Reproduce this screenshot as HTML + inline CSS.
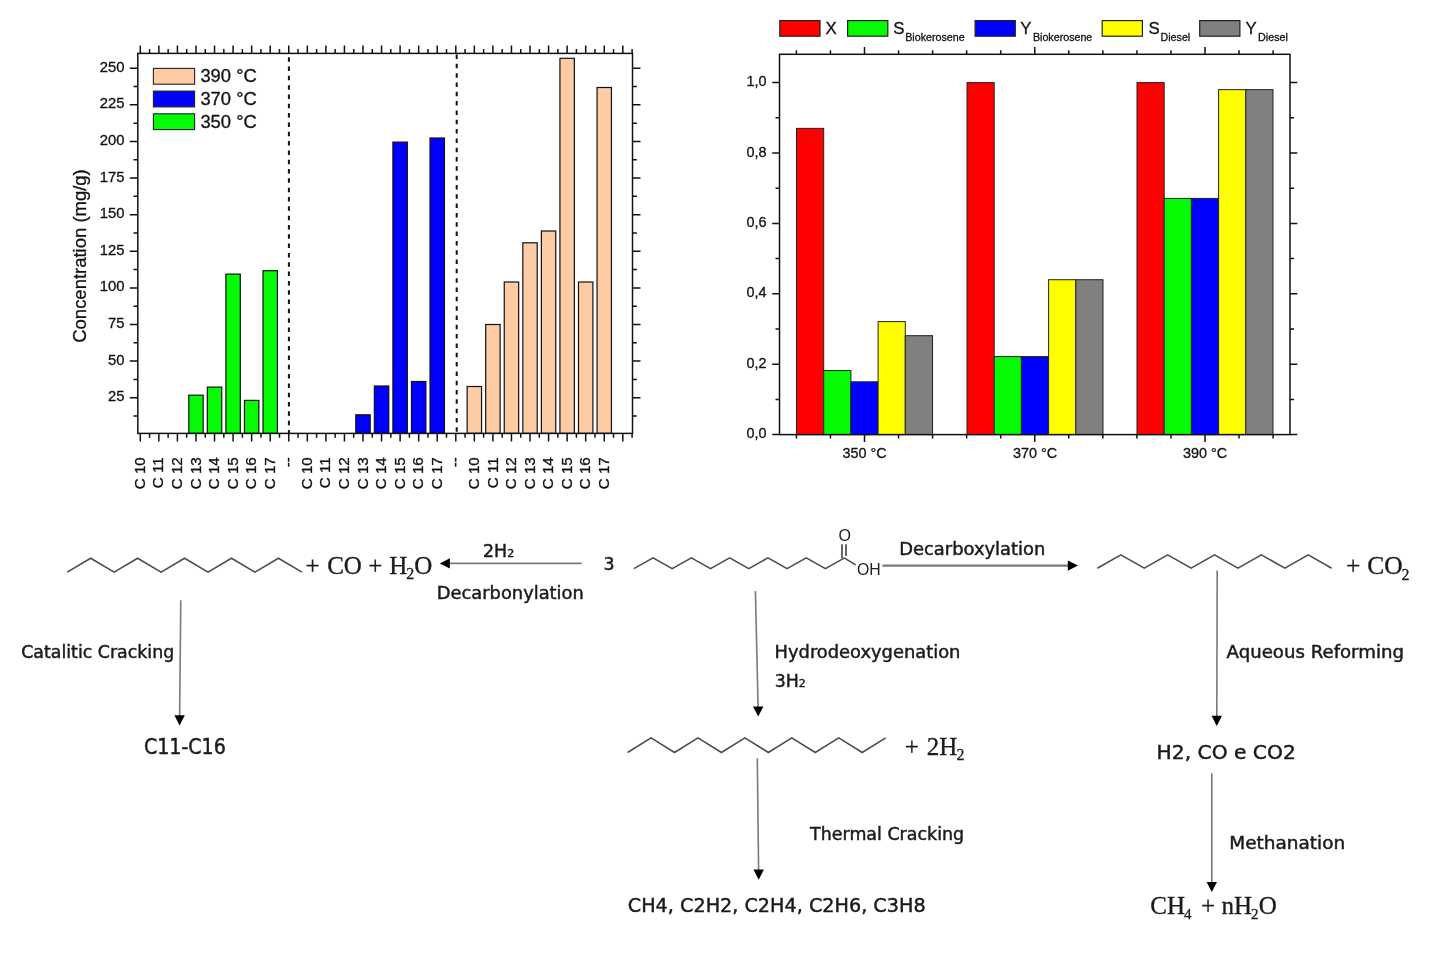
<!DOCTYPE html>
<html><head><meta charset="utf-8"><title>Hydrocarbon distribution and reaction pathways</title>
<style>
html,body{margin:0;padding:0;background:#fff;}
body{width:1449px;height:959px;overflow:hidden;}
svg{display:block;}
text{white-space:pre;}
</style></head>
<body>
<svg width="1449" height="959" viewBox="0 0 1449 959">
<rect width="1449" height="959" fill="#fff"/>
<g id="left-chart">
<rect x="188.77" y="395.2" width="14.4" height="38.2" fill="#04fb04" stroke="#111" stroke-width="1.2"/>
<rect x="207.33" y="387.1" width="14.4" height="46.3" fill="#04fb04" stroke="#111" stroke-width="1.2"/>
<rect x="225.89" y="274.1" width="14.4" height="159.3" fill="#04fb04" stroke="#111" stroke-width="1.2"/>
<rect x="244.45" y="400.4" width="14.4" height="33" fill="#04fb04" stroke="#111" stroke-width="1.2"/>
<rect x="263.01" y="270.7" width="14.4" height="162.7" fill="#04fb04" stroke="#111" stroke-width="1.2"/>
<rect x="355.8" y="414.8" width="14.4" height="18.6" fill="#0000ff" stroke="#111" stroke-width="1.2"/>
<rect x="374.35" y="386" width="14.4" height="47.4" fill="#0000ff" stroke="#111" stroke-width="1.2"/>
<rect x="392.91" y="142.1" width="14.4" height="291.3" fill="#0000ff" stroke="#111" stroke-width="1.2"/>
<rect x="411.47" y="381.5" width="14.4" height="51.9" fill="#0000ff" stroke="#111" stroke-width="1.2"/>
<rect x="430.03" y="138" width="14.4" height="295.4" fill="#0000ff" stroke="#111" stroke-width="1.2"/>
<rect x="467.14" y="386.5" width="14.4" height="46.9" fill="#fdcba4" stroke="#111" stroke-width="1.2"/>
<rect x="485.7" y="324.5" width="14.4" height="108.9" fill="#fdcba4" stroke="#111" stroke-width="1.2"/>
<rect x="504.26" y="282" width="14.4" height="151.4" fill="#fdcba4" stroke="#111" stroke-width="1.2"/>
<rect x="522.82" y="242.8" width="14.4" height="190.6" fill="#fdcba4" stroke="#111" stroke-width="1.2"/>
<rect x="541.38" y="231" width="14.4" height="202.4" fill="#fdcba4" stroke="#111" stroke-width="1.2"/>
<rect x="559.93" y="58.3" width="14.4" height="375.1" fill="#fdcba4" stroke="#111" stroke-width="1.2"/>
<rect x="578.49" y="282" width="14.4" height="151.4" fill="#fdcba4" stroke="#111" stroke-width="1.2"/>
<rect x="597.05" y="87.5" width="14.4" height="345.9" fill="#fdcba4" stroke="#111" stroke-width="1.2"/>
<line x1="288.9" y1="57.2" x2="288.9" y2="433.4" stroke="#111" stroke-width="2" stroke-dasharray="4.5 4.82"/>
<line x1="456.7" y1="54.5" x2="456.7" y2="433.4" stroke="#111" stroke-width="2" stroke-dasharray="4.5 4.82"/>
<rect x="137.8" y="53.4" width="494.7" height="380" fill="none" stroke="#111" stroke-width="1.5"/>
<path d="M140.3 53.4v-8M140.3 433.4v8M149.58 53.4v-4.3M149.58 433.4v4.3M158.86 53.4v-8M158.86 433.4v8M168.14 53.4v-4.3M168.14 433.4v4.3M177.42 53.4v-8M177.42 433.4v8M186.69 53.4v-4.3M186.69 433.4v4.3M195.97 53.4v-8M195.97 433.4v8M205.25 53.4v-4.3M205.25 433.4v4.3M214.53 53.4v-8M214.53 433.4v8M223.81 53.4v-4.3M223.81 433.4v4.3M233.09 53.4v-8M233.09 433.4v8M242.37 53.4v-4.3M242.37 433.4v4.3M251.65 53.4v-8M251.65 433.4v8M260.93 53.4v-4.3M260.93 433.4v4.3M270.21 53.4v-8M270.21 433.4v8M279.49 53.4v-4.3M279.49 433.4v4.3M288.76 53.4v-8M288.76 433.4v8M298.04 53.4v-4.3M298.04 433.4v4.3M307.32 53.4v-8M307.32 433.4v8M316.6 53.4v-4.3M316.6 433.4v4.3M325.88 53.4v-8M325.88 433.4v8M335.16 53.4v-4.3M335.16 433.4v4.3M344.44 53.4v-8M344.44 433.4v8M353.72 53.4v-4.3M353.72 433.4v4.3M363 53.4v-8M363 433.4v8M372.27 53.4v-4.3M372.27 433.4v4.3M381.55 53.4v-8M381.55 433.4v8M390.83 53.4v-4.3M390.83 433.4v4.3M400.11 53.4v-8M400.11 433.4v8M409.39 53.4v-4.3M409.39 433.4v4.3M418.67 53.4v-8M418.67 433.4v8M427.95 53.4v-4.3M427.95 433.4v4.3M437.23 53.4v-8M437.23 433.4v8M446.51 53.4v-4.3M446.51 433.4v4.3M455.79 53.4v-8M455.79 433.4v8M465.06 53.4v-4.3M465.06 433.4v4.3M474.34 53.4v-8M474.34 433.4v8M483.62 53.4v-4.3M483.62 433.4v4.3M492.9 53.4v-8M492.9 433.4v8M502.18 53.4v-4.3M502.18 433.4v4.3M511.46 53.4v-8M511.46 433.4v8M520.74 53.4v-4.3M520.74 433.4v4.3M530.02 53.4v-8M530.02 433.4v8M539.3 53.4v-4.3M539.3 433.4v4.3M548.58 53.4v-8M548.58 433.4v8M557.86 53.4v-4.3M557.86 433.4v4.3M567.13 53.4v-8M567.13 433.4v8M576.41 53.4v-4.3M576.41 433.4v4.3M585.69 53.4v-8M585.69 433.4v8M594.97 53.4v-4.3M594.97 433.4v4.3M604.25 53.4v-8M604.25 433.4v8M613.53 53.4v-4.3M613.53 433.4v4.3M622.81 53.4v-8M622.81 433.4v8M632.09 53.4v-4.3M632.09 433.4v4.3M137.8 397.69h-8M632.5 397.69h8M137.8 361.09h-8M632.5 361.09h8M137.8 324.49h-8M632.5 324.49h8M137.8 287.88h-8M632.5 287.88h8M137.8 251.28h-8M632.5 251.28h8M137.8 214.67h-8M632.5 214.67h8M137.8 178.06h-8M632.5 178.06h8M137.8 141.46h-8M632.5 141.46h8M137.8 104.86h-8M632.5 104.86h8M137.8 68.25h-8M632.5 68.25h8M137.8 416h-4.3M632.5 416h4.3M137.8 379.39h-4.3M632.5 379.39h4.3M137.8 342.79h-4.3M632.5 342.79h4.3M137.8 306.18h-4.3M632.5 306.18h4.3M137.8 269.58h-4.3M632.5 269.58h4.3M137.8 232.97h-4.3M632.5 232.97h4.3M137.8 196.37h-4.3M632.5 196.37h4.3M137.8 159.76h-4.3M632.5 159.76h4.3M137.8 123.16h-4.3M632.5 123.16h4.3M137.8 86.55h-4.3M632.5 86.55h4.3" stroke="#111" stroke-width="1.5" fill="none"/>
<g font-family="'Liberation Sans', Arial, sans-serif" font-size="14.8" fill="#111" stroke="#111" stroke-width="0.3" text-anchor="end">
<text x="124.4" y="401.3">25</text>
<text x="124.4" y="364.69">50</text>
<text x="124.4" y="328.09">75</text>
<text x="124.4" y="291.48">100</text>
<text x="124.4" y="254.88">125</text>
<text x="124.4" y="218.27">150</text>
<text x="124.4" y="181.66">175</text>
<text x="124.4" y="145.06">200</text>
<text x="124.4" y="108.46">225</text>
<text x="124.4" y="71.85">250</text>
</g>
<g font-family="'Liberation Sans', Arial, sans-serif" font-size="15.2" fill="#111" stroke="#111" stroke-width="0.3" text-anchor="end">
<text transform="translate(144.9,457.2) rotate(-90)">C 10</text>
<text transform="translate(163.46,457.2) rotate(-90)">C 11</text>
<text transform="translate(182.02,457.2) rotate(-90)">C 12</text>
<text transform="translate(200.57,457.2) rotate(-90)">C 13</text>
<text transform="translate(219.13,457.2) rotate(-90)">C 14</text>
<text transform="translate(237.69,457.2) rotate(-90)">C 15</text>
<text transform="translate(256.25,457.2) rotate(-90)">C 16</text>
<text transform="translate(274.81,457.2) rotate(-90)">C 17</text>
<text transform="translate(293.36,457.2) rotate(-90)">--</text>
<text transform="translate(311.92,457.2) rotate(-90)">C 10</text>
<text transform="translate(330.48,457.2) rotate(-90)">C 11</text>
<text transform="translate(349.04,457.2) rotate(-90)">C 12</text>
<text transform="translate(367.6,457.2) rotate(-90)">C 13</text>
<text transform="translate(386.15,457.2) rotate(-90)">C 14</text>
<text transform="translate(404.71,457.2) rotate(-90)">C 15</text>
<text transform="translate(423.27,457.2) rotate(-90)">C 16</text>
<text transform="translate(441.83,457.2) rotate(-90)">C 17</text>
<text transform="translate(460.39,457.2) rotate(-90)">--</text>
<text transform="translate(478.94,457.2) rotate(-90)">C 10</text>
<text transform="translate(497.5,457.2) rotate(-90)">C 11</text>
<text transform="translate(516.06,457.2) rotate(-90)">C 12</text>
<text transform="translate(534.62,457.2) rotate(-90)">C 13</text>
<text transform="translate(553.18,457.2) rotate(-90)">C 14</text>
<text transform="translate(571.73,457.2) rotate(-90)">C 15</text>
<text transform="translate(590.29,457.2) rotate(-90)">C 16</text>
<text transform="translate(608.85,457.2) rotate(-90)">C 17</text>
</g>
<text transform="translate(85.9,256) rotate(-90)" font-family="'Liberation Sans', Arial, sans-serif" font-size="19" fill="#111" stroke="#111" stroke-width="0.3" text-anchor="middle" textLength="173.5" lengthAdjust="spacingAndGlyphs">Concentration (mg/g)</text>
<rect x="153.4" y="68.4" width="41.2" height="15.8" fill="#fdcba4" stroke="#222" stroke-width="1.1"/>
<text x="200.4" y="82.4" font-family="'Liberation Sans', Arial, sans-serif" font-size="18.4" fill="#111" stroke="#111" stroke-width="0.3">390 °C</text>
<rect x="153.4" y="91.1" width="41.2" height="15.8" fill="#0000ff" stroke="#222" stroke-width="1.1"/>
<text x="200.4" y="105.1" font-family="'Liberation Sans', Arial, sans-serif" font-size="18.4" fill="#111" stroke="#111" stroke-width="0.3">370 °C</text>
<rect x="153.4" y="113.8" width="41.2" height="15.8" fill="#04fb04" stroke="#222" stroke-width="1.1"/>
<text x="200.4" y="127.8" font-family="'Liberation Sans', Arial, sans-serif" font-size="18.4" fill="#111" stroke="#111" stroke-width="0.3">350 °C</text>
</g>
<g id="right-chart">
<rect x="796.5" y="128.36" width="27.2" height="306.24" fill="#ff0000" stroke="#222" stroke-width="1"/>
<rect x="823.7" y="370.54" width="27.2" height="64.06" fill="#04fb04" stroke="#222" stroke-width="1"/>
<rect x="850.9" y="381.8" width="27.2" height="52.8" fill="#0000ff" stroke="#222" stroke-width="1"/>
<rect x="878.1" y="321.61" width="27.2" height="112.99" fill="#ffff00" stroke="#222" stroke-width="1"/>
<rect x="905.3" y="335.69" width="27.2" height="98.91" fill="#808080" stroke="#222" stroke-width="1"/>
<rect x="967" y="82.6" width="27.2" height="352" fill="#ff0000" stroke="#222" stroke-width="1"/>
<rect x="994.2" y="356.6" width="27.2" height="78" fill="#04fb04" stroke="#222" stroke-width="1"/>
<rect x="1021.4" y="356.6" width="27.2" height="78" fill="#0000ff" stroke="#222" stroke-width="1"/>
<rect x="1048.6" y="279.72" width="27.2" height="154.88" fill="#ffff00" stroke="#222" stroke-width="1"/>
<rect x="1075.8" y="279.72" width="27.2" height="154.88" fill="#808080" stroke="#222" stroke-width="1"/>
<rect x="1137" y="82.6" width="27.2" height="352" fill="#ff0000" stroke="#222" stroke-width="1"/>
<rect x="1164.2" y="198.41" width="27.2" height="236.19" fill="#04fb04" stroke="#222" stroke-width="1"/>
<rect x="1191.4" y="198.41" width="27.2" height="236.19" fill="#0000ff" stroke="#222" stroke-width="1"/>
<rect x="1218.6" y="89.64" width="27.2" height="344.96" fill="#ffff00" stroke="#222" stroke-width="1"/>
<rect x="1245.8" y="89.64" width="27.2" height="344.96" fill="#808080" stroke="#222" stroke-width="1"/>
<rect x="779.5" y="54.3" width="510.5" height="380.3" fill="none" stroke="#111" stroke-width="1.5"/>
<path d="M796.4 54.3v-4M796.4 434.6v4M830.45 54.3v-4M830.45 434.6v4M864.5 54.3v-7.3M864.5 434.6v7.3M898.55 54.3v-4M898.55 434.6v4M932.6 54.3v-4M932.6 434.6v4M966.65 54.3v-4M966.65 434.6v4M1000.7 54.3v-4M1000.7 434.6v4M1034.75 54.3v-7.3M1034.75 434.6v7.3M1068.8 54.3v-4M1068.8 434.6v4M1102.85 54.3v-4M1102.85 434.6v4M1136.9 54.3v-4M1136.9 434.6v4M1170.95 54.3v-4M1170.95 434.6v4M1205 54.3v-7.3M1205 434.6v7.3M1239.05 54.3v-4M1239.05 434.6v4M1273.1 54.3v-4M1273.1 434.6v4M779.5 434.6h-7.3M1290.0 434.6h7.3M779.5 399.4h-4M1290.0 399.4h4M779.5 364.2h-7.3M1290.0 364.2h7.3M779.5 329h-4M1290.0 329h4M779.5 293.8h-7.3M1290.0 293.8h7.3M779.5 258.6h-4M1290.0 258.6h4M779.5 223.4h-7.3M1290.0 223.4h7.3M779.5 188.2h-4M1290.0 188.2h4M779.5 153h-7.3M1290.0 153h7.3M779.5 117.8h-4M1290.0 117.8h4M779.5 82.6h-7.3M1290.0 82.6h7.3" stroke="#111" stroke-width="1.5" fill="none"/>
<g font-family="'Liberation Sans', Arial, sans-serif" font-size="14.4" fill="#111" stroke="#111" stroke-width="0.3" text-anchor="end">
<text x="766.6" y="438.1">0,0</text>
<text x="766.6" y="367.7">0,2</text>
<text x="766.6" y="297.3">0,4</text>
<text x="766.6" y="226.9">0,6</text>
<text x="766.6" y="156.5">0,8</text>
<text x="766.6" y="86.1">1,0</text>
</g>
<g font-family="'Liberation Sans', Arial, sans-serif" font-size="14.4" fill="#111" stroke="#111" stroke-width="0.3" text-anchor="middle">
<text x="864.5" y="457.6">350 °C</text>
<text x="1035" y="457.6">370 °C</text>
<text x="1205" y="457.6">390 °C</text>
</g>
<rect x="779.8" y="20.6" width="40.2" height="15.6" fill="#ff0000" stroke="#222" stroke-width="1.2"/>
<text x="825.6" y="34.2" font-family="'Liberation Sans', Arial, sans-serif" font-size="16.8" fill="#111" stroke="#111" stroke-width="0.3">X</text>
<rect x="847.6" y="20.6" width="40.2" height="15.6" fill="#04fb04" stroke="#222" stroke-width="1.2"/>
<text x="893.2" y="34.2" font-family="'Liberation Sans', Arial, sans-serif" font-size="16.8" fill="#111" stroke="#111" stroke-width="0.3">S</text>
<text x="905.2" y="41" font-family="'Liberation Sans', Arial, sans-serif" font-size="10.7" fill="#111" stroke="#111" stroke-width="0.3">Biokerosene</text>
<rect x="975.1" y="20.6" width="40.2" height="15.6" fill="#0000ff" stroke="#222" stroke-width="1.2"/>
<text x="1020.3" y="34.2" font-family="'Liberation Sans', Arial, sans-serif" font-size="16.8" fill="#111" stroke="#111" stroke-width="0.3">Y</text>
<text x="1032.9" y="41" font-family="'Liberation Sans', Arial, sans-serif" font-size="10.7" fill="#111" stroke="#111" stroke-width="0.3">Biokerosene</text>
<rect x="1102.2" y="20.6" width="40.2" height="15.6" fill="#ffff00" stroke="#222" stroke-width="1.2"/>
<text x="1148.5" y="34.2" font-family="'Liberation Sans', Arial, sans-serif" font-size="16.8" fill="#111" stroke="#111" stroke-width="0.3">S</text>
<text x="1160.5" y="41" font-family="'Liberation Sans', Arial, sans-serif" font-size="10.7" fill="#111" stroke="#111" stroke-width="0.3">Diesel</text>
<rect x="1199.7" y="20.6" width="40.2" height="15.6" fill="#808080" stroke="#222" stroke-width="1.2"/>
<text x="1245.5" y="34.2" font-family="'Liberation Sans', Arial, sans-serif" font-size="16.8" fill="#111" stroke="#111" stroke-width="0.3">Y</text>
<text x="1258.1" y="41" font-family="'Liberation Sans', Arial, sans-serif" font-size="10.7" fill="#111" stroke="#111" stroke-width="0.3">Diesel</text>
</g>
<g id="scheme">
<polyline points="67.2,572.1 90.67,558.3 114.14,572.1 137.61,558.3 161.08,572.1 184.55,558.3 208.02,572.1 231.49,558.3 254.96,572.1 278.43,558.3 301.9,572.1" fill="none" stroke="#4d4d4d" stroke-width="1.6" stroke-linejoin="miter"/>
<polyline points="633.9,568.6 653.05,557.9 672.2,568.6 691.35,557.9 710.5,568.6 729.65,557.9 748.8,568.6 767.95,557.9 787.1,568.6 806.25,557.9 825.4,568.6 844.55,557.9" fill="none" stroke="#4d4d4d" stroke-width="1.6" stroke-linejoin="miter"/>
<path d="M844.2 557.9L855.6 564.9M842 558.3V544.2M846 556V544.2" stroke="#4d4d4d" stroke-width="1.7" fill="none"/>
<text x="838.4" y="541.4" font-family="'Liberation Sans', Arial, sans-serif" font-size="16" fill="#222">O</text>
<text x="857" y="574.9" font-family="'Liberation Sans', Arial, sans-serif" font-size="15.8" fill="#222">OH</text>
<polyline points="1097.4,568.2 1120.83,554.9 1144.26,568.2 1167.69,554.9 1191.12,568.2 1214.55,554.9 1237.98,568.2 1261.41,554.9 1284.84,568.2 1308.27,554.9 1331.7,568.2" fill="none" stroke="#4d4d4d" stroke-width="1.6" stroke-linejoin="miter"/>
<polyline points="627.6,752.5 651.06,737.9 674.52,752.5 697.98,737.9 721.44,752.5 744.9,737.9 768.36,752.5 791.82,737.9 815.28,752.5 838.74,737.9 862.2,752.5 885.66,737.9" fill="none" stroke="#4d4d4d" stroke-width="1.6" stroke-linejoin="miter"/>
<line x1="447" y1="563.4" x2="581.7" y2="563.4" stroke="#7a7a7a" stroke-width="1.6"/>
<polygon points="439.7,563.4 449.9,558.2 449.9,568.6" fill="#000"/>
<line x1="882.4" y1="565.6" x2="1070" y2="565.6" stroke="#7a7a7a" stroke-width="2.2"/>
<polygon points="1078,565.6 1067.8,560.4 1067.8,570.8" fill="#000"/>
<line x1="180.8" y1="600.3" x2="179.6" y2="716" stroke="#7a7a7a" stroke-width="1.6"/>
<polygon points="179.6,725.5 174.4,715.3 184.8,715.3" fill="#000"/>
<line x1="755.4" y1="591" x2="758.1" y2="707" stroke="#7a7a7a" stroke-width="1.6"/>
<polygon points="758.2,716.6 753,706.4 763.4,706.4" fill="#000"/>
<line x1="757.3" y1="758.3" x2="758.6" y2="870" stroke="#7a7a7a" stroke-width="1.6"/>
<polygon points="758.7,879.7 753.5,869.5 763.9,869.5" fill="#000"/>
<line x1="1217.2" y1="570.6" x2="1216.8" y2="716" stroke="#7a7a7a" stroke-width="1.6"/>
<polygon points="1216.8,725.9 1211.6,715.7 1222,715.7" fill="#000"/>
<line x1="1211.8" y1="773.3" x2="1211.8" y2="882" stroke="#7a7a7a" stroke-width="1.6"/>
<polygon points="1211.8,892.1 1206.6,881.9 1217,881.9" fill="#000"/>
<text font-family="'Liberation Serif', 'Times New Roman', serif" fill="#1a1a1a" stroke="#1a1a1a" stroke-width="0.3"><tspan x="305.45" y="574.2" font-size="25.0">+</tspan><tspan x="327.18" y="574.2" font-size="25.0">CO</tspan><tspan x="368.36" y="574.2" font-size="25.0">+</tspan><tspan x="389.28" y="574.2" font-size="25.0">H</tspan><tspan x="406.2" y="579.2" font-size="16.0">2</tspan><tspan x="414.28" y="574.2" font-size="25.0">O</tspan></text>
<text font-family="'Liberation Serif', 'Times New Roman', serif" fill="#1a1a1a" stroke="#1a1a1a" stroke-width="0.3"><tspan x="1345.93" y="574.2" font-size="25.5">+</tspan><tspan x="1367.15" y="574.2" font-size="25.5">CO</tspan><tspan x="1401.4" y="579.5" font-size="16.0">2</tspan></text>
<text font-family="'Liberation Serif', 'Times New Roman', serif" fill="#1a1a1a" stroke="#1a1a1a" stroke-width="0.3"><tspan x="904.85" y="754.6" font-size="25.0">+</tspan><tspan x="926.8" y="754.6" font-size="25.0">2H</tspan><tspan x="956.4" y="759.6" font-size="16.0">2</tspan></text>
<text font-family="'Liberation Serif', 'Times New Roman', serif" fill="#1a1a1a" stroke="#1a1a1a" stroke-width="0.3"><tspan x="1150.27" y="913.7" font-size="25.0">CH</tspan><tspan x="1184.11" y="918.7" font-size="15.0">4</tspan><tspan x="1201.06" y="913.7" font-size="25.0">+</tspan><tspan x="1221.53" y="913.7" font-size="25.0">nH</tspan><tspan x="1250.94" y="918.7" font-size="15.0">2</tspan><tspan x="1258.77" y="913.7" font-size="25.0">O</tspan></text>
<text x="436.8" y="598.7" font-family="'DejaVu Sans', 'Liberation Sans', sans-serif" font-size="17.4" fill="#1a1a1a" stroke="#1a1a1a" stroke-width="0.45" text-anchor="start" textLength="147" lengthAdjust="spacingAndGlyphs">Decarbonylation</text>
<text x="899.2" y="555.4" font-family="'DejaVu Sans', 'Liberation Sans', sans-serif" font-size="17.4" fill="#1a1a1a" stroke="#1a1a1a" stroke-width="0.45" text-anchor="start" textLength="146.1" lengthAdjust="spacingAndGlyphs">Decarboxylation</text>
<text x="483" y="556.6" font-family="'DejaVu Sans', 'Liberation Sans', sans-serif" font-size="17.4" fill="#1a1a1a" stroke="#1a1a1a" stroke-width="0.45" text-anchor="start">2H<tspan font-size="11">2</tspan></text>
<text x="603.6" y="569.6" font-family="'DejaVu Sans', 'Liberation Sans', sans-serif" font-size="17.4" fill="#1a1a1a" stroke="#1a1a1a" stroke-width="0.45" text-anchor="start">3</text>
<text x="21.2" y="657.9" font-family="'DejaVu Sans', 'Liberation Sans', sans-serif" font-size="17.4" fill="#1a1a1a" stroke="#1a1a1a" stroke-width="0.45" text-anchor="start" textLength="153" lengthAdjust="spacingAndGlyphs">Catalitic Cracking</text>
<text x="143.9" y="753.5" font-family="'DejaVu Sans', 'Liberation Sans', sans-serif" font-size="20.5" fill="#1a1a1a" stroke="#1a1a1a" stroke-width="0.45" text-anchor="start" textLength="81.9" lengthAdjust="spacingAndGlyphs">C11-C16</text>
<text x="774.6" y="657.8" font-family="'DejaVu Sans', 'Liberation Sans', sans-serif" font-size="17.4" fill="#1a1a1a" stroke="#1a1a1a" stroke-width="0.45" text-anchor="start" textLength="185.8" lengthAdjust="spacingAndGlyphs">Hydrodeoxygenation</text>
<text x="774.7" y="686.8" font-family="'DejaVu Sans', 'Liberation Sans', sans-serif" font-size="17.4" fill="#1a1a1a" stroke="#1a1a1a" stroke-width="0.45" text-anchor="start">3H<tspan font-size="11">2</tspan></text>
<text x="810.1" y="839.7" font-family="'DejaVu Sans', 'Liberation Sans', sans-serif" font-size="17.4" fill="#1a1a1a" stroke="#1a1a1a" stroke-width="0.45" text-anchor="start" textLength="154" lengthAdjust="spacingAndGlyphs">Thermal Cracking</text>
<text x="627.8" y="911.9" font-family="'DejaVu Sans', 'Liberation Sans', sans-serif" font-size="19.4" fill="#1a1a1a" stroke="#1a1a1a" stroke-width="0.45" text-anchor="start" textLength="297.8" lengthAdjust="spacingAndGlyphs">CH4, C2H2, C2H4, C2H6, C3H8</text>
<text x="1226.6" y="658" font-family="'DejaVu Sans', 'Liberation Sans', sans-serif" font-size="17.4" fill="#1a1a1a" stroke="#1a1a1a" stroke-width="0.45" text-anchor="start" textLength="177.4" lengthAdjust="spacingAndGlyphs">Aqueous Reforming</text>
<text x="1156.6" y="758.7" font-family="'DejaVu Sans', 'Liberation Sans', sans-serif" font-size="19.4" fill="#1a1a1a" stroke="#1a1a1a" stroke-width="0.45" text-anchor="start" textLength="139.2" lengthAdjust="spacingAndGlyphs">H2, CO e CO2</text>
<text x="1229.2" y="848.6" font-family="'DejaVu Sans', 'Liberation Sans', sans-serif" font-size="17.4" fill="#1a1a1a" stroke="#1a1a1a" stroke-width="0.45" text-anchor="start" textLength="116" lengthAdjust="spacingAndGlyphs">Methanation</text>
</g>
</svg>
</body></html>
